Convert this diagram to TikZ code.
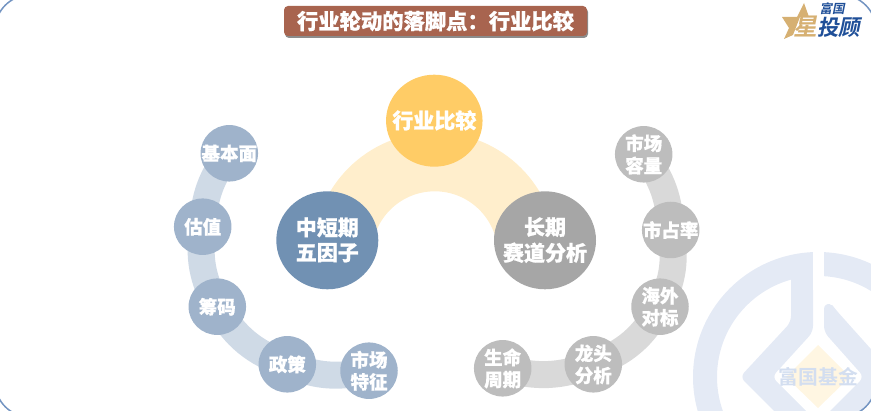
\documentclass[tikz,border=0pt]{standalone}
\usepackage{fontspec}
\setmainfont{Noto Sans CJK SC}[BoldFeatures={FakeBold=0.7}]
\newfontfamily\logofont{Noto Sans CJK SC}[UprightFont=* Bold,FakeSlant=0.2]
\newfontfamily\wmfont{Noto Sans CJK SC}[UprightFont=* Bold]
\usetikzlibrary{shapes.geometric,shadows,backgrounds,calc}
\definecolor{framec}{HTML}{7495C2}
\definecolor{wm}{HTML}{E4EAF5}
\definecolor{wmtext}{HTML}{D3DEF0}
\definecolor{wmdia}{HTML}{FFF6E2}
\definecolor{titlec}{HTML}{A8644F}
\definecolor{gold}{HTML}{FFCC66}
\definecolor{archc}{HTML}{FFEECC}
\definecolor{bluebig}{HTML}{7191B3}
\definecolor{graybig}{HTML}{A6A6A6}
\definecolor{bluesm}{HTML}{9FB3CB}
\definecolor{graysm}{HTML}{BDBDBD}
\definecolor{bluering}{HTML}{CFDAE6}
\definecolor{grayring}{HTML}{D9D9D9}
\definecolor{logotan}{HTML}{D6B072}
\definecolor{logoblue}{HTML}{1F4F98}
\newcommand\lbl[1]{\makebox[0pt]{\raisebox{-.36em}[0pt][0pt]{\begin{tabular}{@{}c@{}}#1\end{tabular}}}}
\tikzset{
  bignode/.style={ellipse,inner sep=0pt,minimum width=102pt,minimum height=98pt,text=white,font=\fontsize{21}{25}\selectfont\bfseries},
  smallnode/.style={ellipse,inner sep=0pt,minimum width=57.5pt,minimum height=56.5pt,text=white,font=\fontsize{18.5}{21}\selectfont\bfseries},
  ringl/.style={draw=bluering,line width=27pt},
  ringr/.style={draw=grayring,line width=27pt},
}
\begin{document}
\begin{tikzpicture}[x=1pt,y=-1pt]
\useasboundingbox (0,0) rectangle (871,411);
\clip (0,0) rectangle (871,411);
% watermark
\coordinate (wc) at (818,377);
\fill[wm,even odd rule] (wc) circle[radius=125] (wc) circle[radius=101];
\fill[wm,rounded corners=6pt] (791,270) -- (791,322) -- (740,377) -- (785,422) -- (817,422) -- (772,377) -- (813,332) -- (813,270) -- cycle;
\fill[wm,rounded corners=6pt] (824,303) .. controls (829,304) and (833,306) .. (836,310) -- (896,377) -- (850,422) -- (819,422) -- (864,377) -- (824,332) -- cycle;
\fill[white] (813,240) rectangle (824,290);
\fill[wmdia] (818,345) -- (850,377) -- (818,408) -- (786,377) -- cycle;
\node[text=wmtext,font=\fontsize{19.8}{20}\wmfont,inner sep=0pt] (wmlabel) at (818.5,377) {富国基金};
% frame
\draw[framec,line width=1.5pt,rounded corners=35pt] (-5,-5) rectangle (876,417);
% title
\node[fill=titlec,rounded corners=4pt,minimum width=303pt,minimum height=30pt,inner sep=0pt,text=white,font=\fontsize{21.3}{24}\selectfont\bfseries,drop shadow={shadow xshift=1pt,shadow yshift=-2pt,opacity=.45,fill=black}] (title) at (435.5,21) {行业轮动的落脚点：行业比较};
% logo
\fill[logotan] (782,17) -- (797,17) -- (804,3) -- (809,17) -- (800,17) -- (793,35) -- (784,39) -- (789,28) -- cycle;
\node[text=logotan,font=\fontsize{24}{24}\logofont,inner sep=0pt] (logostar) at (805.5,27) {星};
\node[text=logoblue,font=\fontsize{21.5}{22}\logofont,inner sep=0pt] (logoname) at (838.5,27) {投顾};
\node[text=logoblue,font=\fontsize{12.5}{13}\logofont,inner sep=0pt] (logofg) at (832,9) {富国};
% main nodes
\node[bignode,fill=gold,minimum width=96.5pt,minimum height=92pt] (cmp) at (434.3,120.7) {\lbl{行业比较}};
\node[bignode,fill=bluebig] (short) at (327.3,240.3) {\lbl{中短期\\五因子}};
\node[bignode,fill=graybig] (long) at (545,240.3) {\lbl{长期\\赛道分析}};
% left nodes
\node[smallnode,fill=bluesm] (l1) at (229.3,153.3) {\lbl{基本面}};
\node[smallnode,fill=bluesm] (l2) at (202.7,226.7) {\lbl{估值}};
\node[smallnode,fill=bluesm] (l3) at (217.3,306.7) {\lbl{筹码}};
\node[smallnode,fill=bluesm] (l4) at (287.3,364.3) {\lbl{政策}};
\node[smallnode,fill=bluesm] (l5) at (369,370.7) {\lbl{市场\\特征}};
% right nodes
\node[smallnode,fill=graysm] (r1) at (643.7,154.3) {\lbl{市场\\容量}};
\node[smallnode,fill=graysm] (r2) at (670.7,230) {\lbl{市占率}};
\node[smallnode,fill=graysm] (r3) at (660,306.7) {\lbl{海外\\对标}};
\node[smallnode,fill=graysm] (r4) at (593.3,364.3) {\lbl{龙头\\分析}};
\node[smallnode,fill=graysm] (r5) at (502.7,368.3) {\lbl{生命\\周期}};
% connectors are placed under the nodes
\begin{pgfonlayer}{background}
\draw[archc,line width=59pt] ($(short.center)+(15,14)$) arc[start angle=180,end angle=360,radius=92.5];
\draw[ringl] (l1.center) to[bend right=17] (l2.center);
\draw[ringl] (l2.center) to[bend right=18] (l3.center);
\draw[ringl] (l3.center) to[bend right=20] (l4.center);
\draw[ringl] (l4.center) to[bend right=18] (l5.center);
\draw[ringr] (r1.center) to[bend left=17] (r2.center);
\draw[ringr] (r2.center) to[bend left=18] (r3.center);
\draw[ringr] (r3.center) to[bend left=20] (r4.center);
\draw[ringr] (r4.center) to[bend left=18] (r5.center);
\end{pgfonlayer}
\end{tikzpicture}
\end{document}
